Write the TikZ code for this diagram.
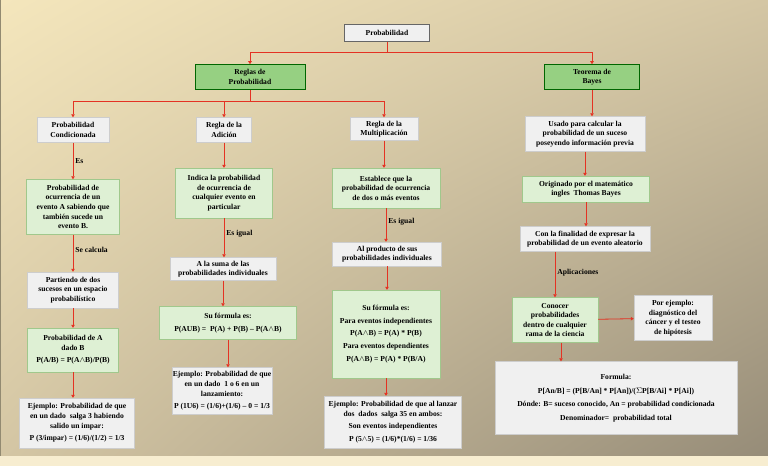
\documentclass[tikz,border=0pt]{standalone}
\usepackage{fontspec}
\setmainfont{Liberation Serif}
\usetikzlibrary{arrows.meta,shadings}
\definecolor{bgA}{RGB}{244,230,188}
\definecolor{bgM}{RGB}{212,198,164}
\definecolor{bgB}{RGB}{150,140,120}
\definecolor{gfill}{RGB}{222,240,212}
\definecolor{gline}{RGB}{160,200,140}
\definecolor{gray1}{RGB}{240,240,240}
\definecolor{grayl}{RGB}{205,205,205}
\definecolor{rgreen}{RGB}{150,208,130}
\definecolor{arr}{RGB}{228,50,35}
\begin{document}
\begin{tikzpicture}[x=1pt,y=-1pt,
  font=\bfseries\fontsize{7.6}{9.6}\selectfont,
  base/.style={draw,rectangle,align=center,inner sep=1pt},
  gbox/.style={base,fill=gfill,draw=gline},
  ybox/.style={base,fill=gray1,draw=grayl},
  hbox/.style={base,fill=rgreen,draw=black!60!green,line width=0.6pt},
  conn/.style={draw=arr,line width=0.8pt},
  arw/.style={conn,-{Triangle[length=3pt,width=3.5pt]}},
  lab/.style={right,inner sep=2pt}]
\useasboundingbox (0,0) rectangle (768,466);
\shade[upper left=bgA,upper right=bgM,lower left=bgM,lower right=bgB] (0,0) rectangle (768,456);
\fill[bgA!70!white] (0,456) rectangle (768,466);
\draw[bgA!60!black,line width=0.4pt] (0.5,0) -- (0.5,456);

\node[ybox,draw=black!60,minimum width=85,minimum height=17] (P) at (387,33) {Probabilidad};
\node[hbox,minimum width=110,minimum height=25] (R) at (250,77) {Reglas de\\Probabilidad};
\node[hbox,minimum width=95,minimum height=25] (B) at (592,77) {Teorema de\\Bayes};

\node[ybox,minimum width=72,minimum height=25] (PC) at (73,130) {Probabilidad\\Condicionada};
\node[ybox,minimum width=55,minimum height=25] (RA) at (224,130) {Regla de la\\Adición};
\node[ybox,minimum width=68,minimum height=23] (RM) at (384,129) {Regla de la\\Multiplicación};

\node[gbox,minimum width=93,minimum height=55] (C1) at (73,207) {Probabilidad de\\ocurrencia de un\\evento A sabiendo que\\también sucede un\\evento B.};
\node[ybox,minimum width=91,minimum height=36] (C2) at (73,290) {Partiendo de dos\\sucesos en un espacio\\probabilístico};
\node[gbox,minimum width=91,minimum height=44] (C3) at (73,350) {Probabilidad de A\\dado B\\[3pt]P(A/B) = P(A$\wedge$B)/P(B)};
\node[ybox,minimum width=115,minimum height=50] (C4) at (77,423) {Ejemplo: Probabilidad de que\\en un dado \ salga 3 habiendo\\salido un impar:\\[3pt]P (3/impar) = (1/6)/(1/2) = 1/3};

\node[gbox,minimum width=97,minimum height=50] (A1) at (224,193) {Indica la probabilidad\\de ocurrencia de\\cualquier evento en\\particular};
\node[ybox,minimum width=106,minimum height=23] (A2) at (223,269) {A la suma de las\\probabilidades individuales};
\node[gbox,minimum width=137,minimum height=33] (A3) at (228,323) {Su fórmula es:\\[3pt]P(AUB) = \ P(A) + P(B) -- P(A$\wedge$B)};
\node[ybox,minimum width=95,minimum height=47] (A4) at (222,391) {Ejemplo: Probabilidad de que\\en un dado \ 1 o 6 en un\\lanzamiento:\\[3pt]P (1U6) = (1/6)+(1/6) -- 0 = 1/3};

\node[gbox,minimum width=108,minimum height=40] (M1) at (386,188) {Establece que la\\probabilidad de ocurrencia\\de dos o más eventos};
\node[ybox,minimum width=109,minimum height=24] (M2) at (387,254) {Al producto de sus\\probabilidades individuales};
\node[gbox,minimum width=108,minimum height=88] (M3) at (386,334) {Su fórmula es:\\[3pt]Para eventos independientes\\[3pt]P(A$\wedge$B) = P(A) * P(B)\\[3pt]Para eventos dependientes\\[3pt]P(A$\wedge$B) = P(A) * P(B/A)};
\node[ybox,minimum width=137,minimum height=52] (M4) at (393,422) {Ejemplo: Probabilidad de que al lanzar\\dos \ dados \ salga 35 en ambos:\\[3pt]Son eventos independientes\\[3pt]P (5$\wedge$5) = (1/6)*(1/6) = 1/36};

\node[ybox,minimum width=120,minimum height=35] (T1) at (585,134) {Usado para calcular la\\probabilidad de un suceso\\poseyendo información previa};
\node[gbox,minimum width=127,minimum height=26] (T2) at (586,189) {Originado por el matemático\\ingles \ Thomas Bayes};
\node[ybox,minimum width=130,minimum height=25] (T3) at (585,239) {Con la finalidad de expresar la\\probabilidad de un evento aleatorio};
\node[gbox,minimum width=86,minimum height=45] (T4) at (555,320) {Conocer\\probabilidades\\dentro de cualquier\\rama de la ciencia};
\node[ybox,minimum width=78,minimum height=45] (T5) at (673,318) {Por ejemplo:\\diagnóstico del\\cáncer y el testeo\\de hipótesis};
\node[ybox,minimum width=242,minimum height=73] (T6) at (616,398) {Formula:\\[4pt]P[An/B] = (P[B/An] * P[An])/($\Sigma$P[B/Ai] * P[Ai])\\[4pt]Dónde: B= suceso conocido, An = probabilidad condicionada\\[4pt]Denominador= \ probabilidad total};

\coordinate (j1) at (387,52);
\coordinate (j2) at (250,101);
\draw[conn] (P) -- (j1);
\draw[arw] (j1) -| (R);
\draw[arw] (j1) -| (B);
\draw[conn] (R) -- (j2);
\draw[arw] (j2) -| (PC);
\draw[arw] (j2) -| (RA);
\draw[arw] (j2) -| (RM);

\draw[arw] (PC) -- node[lab]{Es} (PC |- C1.north);
\draw[arw] (C1) -- node[lab,pos=0.4]{Se calcula} (C1 |- C2.north);
\draw[arw] (C2) -- (C2 |- C3.north);
\draw[arw] (C3) -- (C3 |- C4.north);

\draw[arw] (RA) -- (RA |- A1.north);
\draw[arw] (A1) -- node[lab,pos=0.4]{Es igual} (A1 |- A2.north);
\draw[arw] (A2) -- (A2 |- A3.north);
\draw[arw] (A3) -- (A3 |- A4.north);

\draw[arw] (RM) -- (RM |- M1.north);
\draw[arw] (M1) -- node[lab,pos=0.4]{Es igual} (M1 |- M2.north);
\draw[arw] (M2) -- (M2 |- M3.north);
\draw[arw] (M3) -- (M3 |- M4.north);

\draw[arw] (B) -- (B |- T1.north);
\draw[arw] (T1) -- (T1 |- T2.north);
\draw[arw] (T2) -- (T2 |- T3.north);
\draw[arw] (T4 |- T3.south) -- node[lab,pos=0.45]{Aplicaciones} (T4);
\draw[arw] (T4) -- (T5);
\coordinate (t4s) at ([xshift=6pt]T4.south);
\draw[arw] (t4s) -- (t4s |- T6.north);
\end{tikzpicture}
\end{document}
